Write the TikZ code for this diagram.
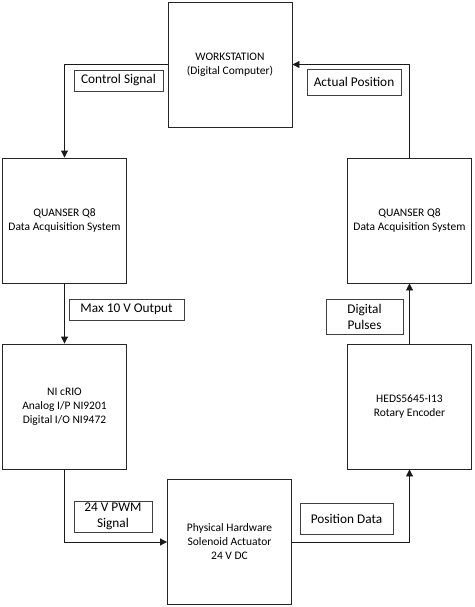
\documentclass[tikz,border=0pt]{standalone}
\usepackage{fontspec}
\setmainfont{Carlito}
\usetikzlibrary{positioning,arrows.meta}

\begin{document}
\begin{tikzpicture}[x=1pt,y=-1pt,>={Triangle[length=7pt,width=7pt]}]
    \tikzstyle{unit} = [rectangle, align=center, draw=black!85, line width=0.9pt, minimum width=124pt, minimum height=125pt, font=\fontsize{11.5}{14}\selectfont]
    \tikzstyle{tag} = [rectangle, align=center, draw=black!75, line width=0.8pt, inner sep=0pt, font=\fontsize{13.3}{16}\selectfont]
    \tikzstyle{link} = [line width=0.9pt, black!90]
    \useasboundingbox (0,0) rectangle (474,607);
    % blocks
    \node (ws)   at (230,64.5)  [unit] {WORKSTATION\\(Digital Computer)};
    \node (qL)   at (64.5,220.5) [unit] {QUANSER Q8\\Data Acquisition System};
    \node (qR)   at (409.5,220.5) [unit] {QUANSER Q8\\Data Acquisition System};
    \node (crio) at (64.5,406.5) [unit] {NI cRIO\\Analog I/P NI9201\\Digital I/O NI9472};
    \node (enc)  at (409.5,406.5) [unit] {HEDS5645-I13\\Rotary Encoder};
    \node (hw)   at (229.5,542)  [unit] {Physical Hardware\\Solenoid Actuator\\24 V DC};
    % signal labels
    \node (tCtrl) at (118.5,80.5) [tag, minimum width=89pt, minimum height=21pt] {Control Signal};
    \node (tPos)  at (354,82)     [tag, minimum width=94pt, minimum height=26pt] {Actual Position};
    \node (tMax)  at (126.5,309.5) [tag, minimum width=115pt, minimum height=21pt] {Max 10 V Output};
    \node (tDig)  at (364.5,316.5) [tag, minimum width=77pt, minimum height=35pt] {Digital\\Pulses};
    \node (tPwm)  at (113,516.5)  [tag, minimum width=78pt, minimum height=31pt] {24 V PWM\\Signal};
    \node (tData) at (346.5,518.5) [tag, minimum width=93pt, minimum height=31pt] {Position Data};
    % connectors
    \draw [link,->] (ws.west) -| (qL.north);
    \draw [link,->] (qR.north) |- (ws.east);
    \draw [link,->] (qL.south) -- (crio.north);
    \draw [link,->] (enc.north) -- (qR.south);
    \draw [link,->] (crio.south) |- (hw.west);
    \draw [link,->] (hw.east) -| (enc.south);
\end{tikzpicture}
\end{document}
